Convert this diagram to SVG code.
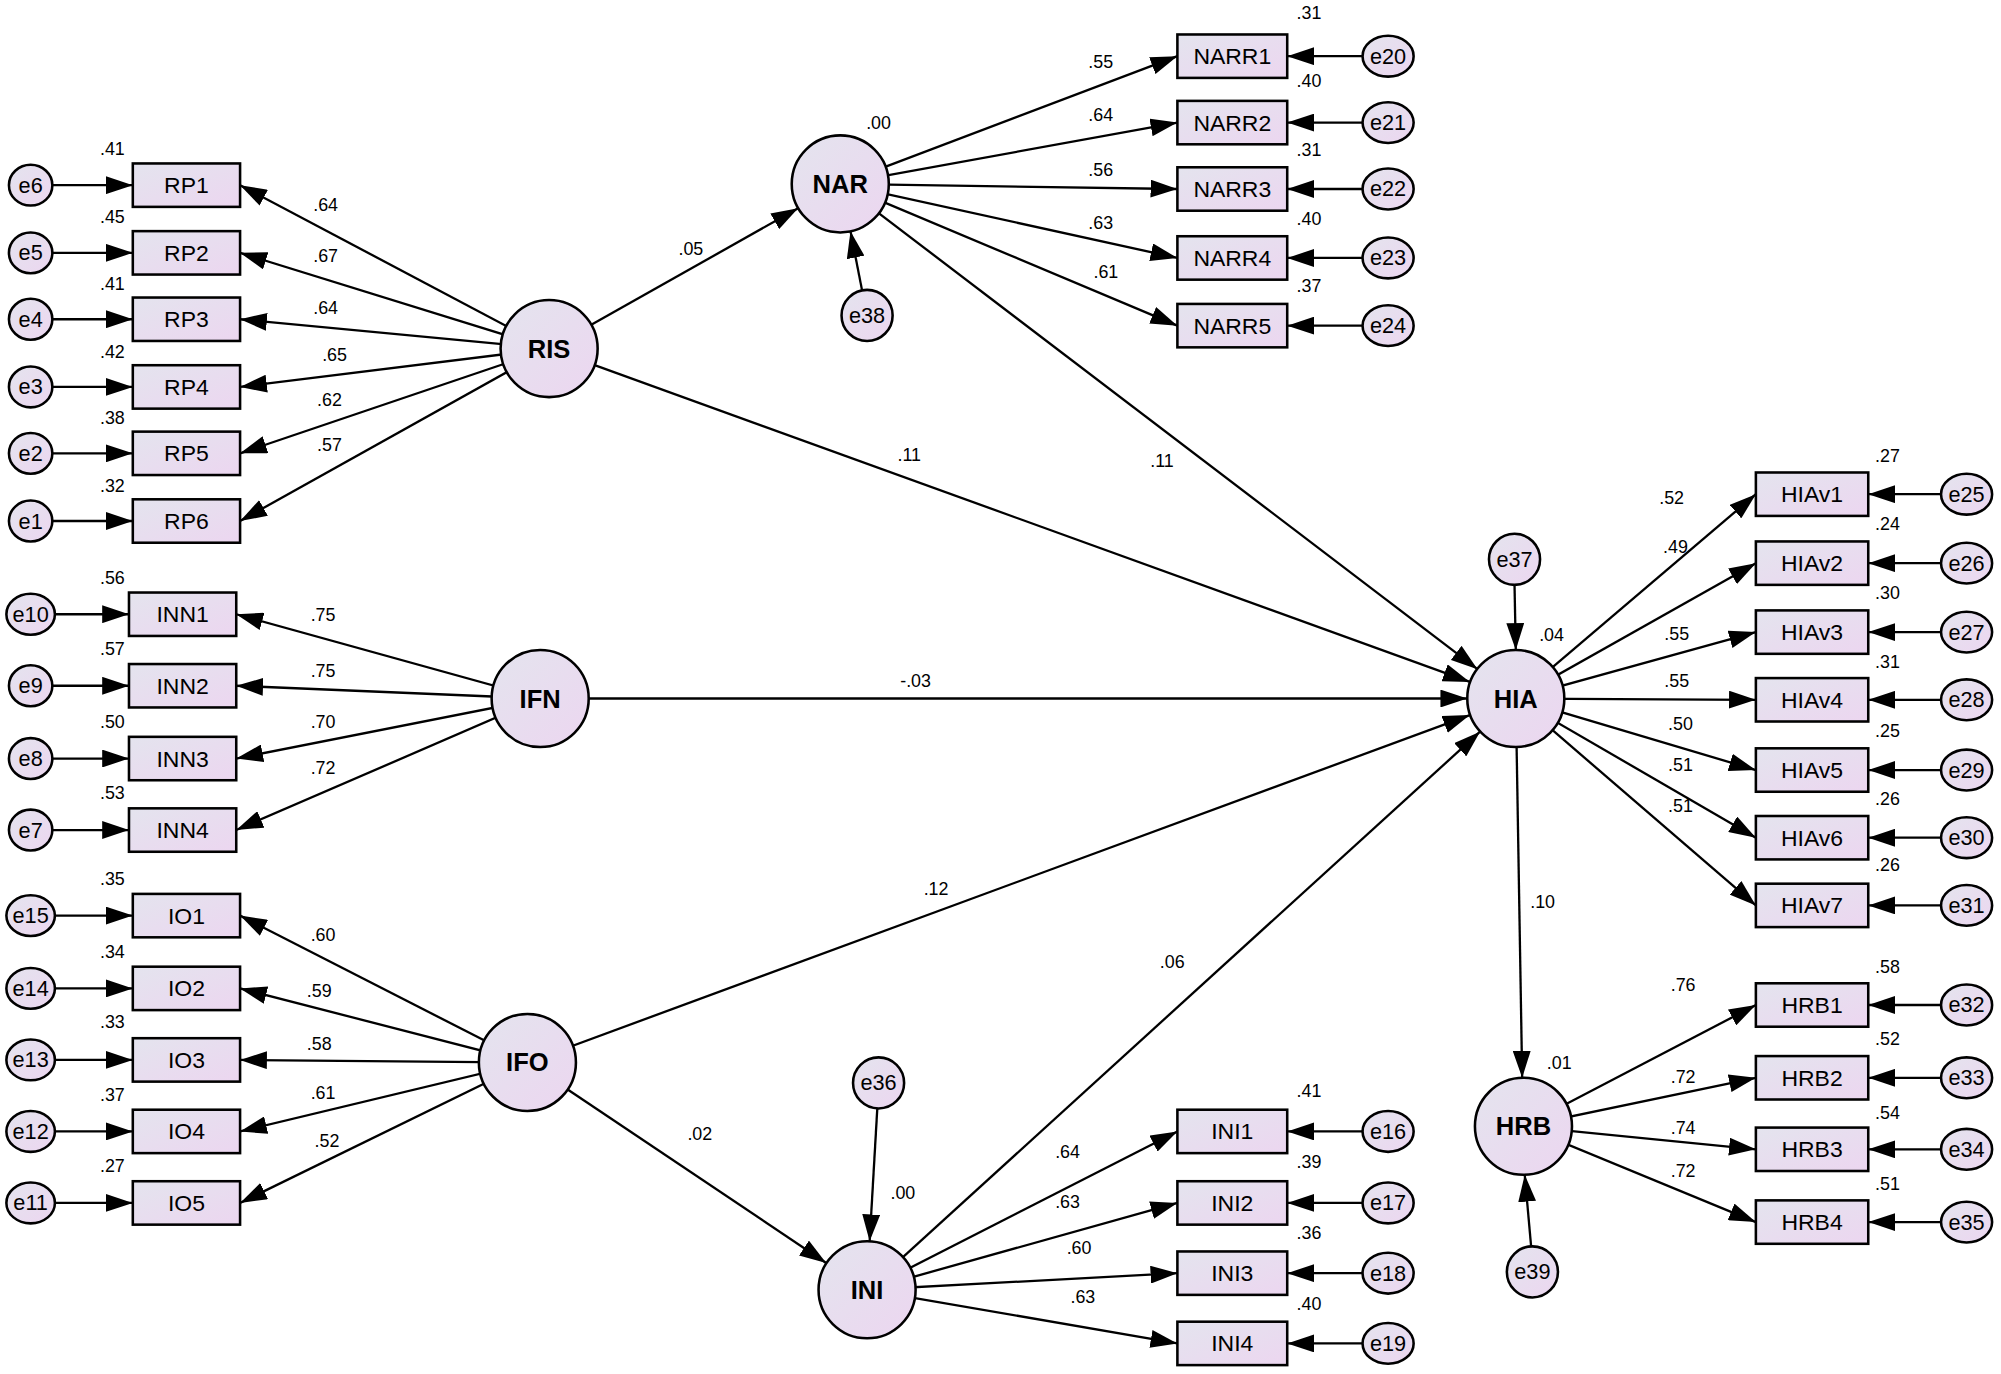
<svg xmlns="http://www.w3.org/2000/svg" width="2001" height="1374" viewBox="0 0 2001 1374">
<defs>
<linearGradient id="g" x1="0" y1="0" x2="1" y2="1"><stop offset="0" stop-color="#e4e4ee"/><stop offset="1" stop-color="#ecd6f0"/></linearGradient>
<marker id="a" markerUnits="userSpaceOnUse" markerWidth="22" markerHeight="14" refX="21" refY="7" orient="auto"><path d="M0,0 L21,7 L0,14 Z" fill="#000"/></marker>
<style>
.c line{stroke:#000;stroke-width:1.8;marker-end:url(#a)}
.n rect,.n circle,.n ellipse{fill:url(#g);stroke:#000;stroke-width:2}
.t{font-family:"Liberation Sans",Arial,sans-serif;font-size:18px;text-anchor:middle;dominant-baseline:central}
.b{font-weight:bold;font-size:20px}
.e{font-size:17px}
.v{font-family:"Liberation Sans",Arial,sans-serif;font-size:14px;text-anchor:middle}
</style>
</defs>
<rect width="2001" height="1374" fill="#fff"/>
<g transform="scale(1.277)">
<g class="c" id="connectors">
<line x1="430" y1="273" x2="188" y2="145"/><line x1="430" y1="273" x2="188" y2="198"/><line x1="430" y1="273" x2="188" y2="250"/><line x1="430" y1="273" x2="188" y2="303"/><line x1="430" y1="273" x2="188" y2="355"/><line x1="430" y1="273" x2="188" y2="408"/>
<line x1="423" y1="547" x2="185" y2="481"/><line x1="423" y1="547" x2="185" y2="537"/><line x1="423" y1="547" x2="185" y2="594"/><line x1="423" y1="547" x2="185" y2="650"/>
<line x1="413" y1="832" x2="188" y2="717"/><line x1="413" y1="832" x2="188" y2="774"/><line x1="413" y1="832" x2="188" y2="830"/><line x1="413" y1="832" x2="188" y2="886"/><line x1="413" y1="832" x2="188" y2="942"/>
<line x1="41" y1="145" x2="104" y2="145"/><line x1="41" y1="198" x2="104" y2="198"/><line x1="41" y1="250" x2="104" y2="250"/><line x1="41" y1="303" x2="104" y2="303"/><line x1="41" y1="355" x2="104" y2="355"/><line x1="41" y1="408" x2="104" y2="408"/>
<line x1="41" y1="481" x2="101" y2="481"/><line x1="41" y1="537" x2="101" y2="537"/><line x1="41" y1="594" x2="101" y2="594"/><line x1="41" y1="650" x2="101" y2="650"/>
<line x1="41" y1="717" x2="104" y2="717"/><line x1="41" y1="774" x2="104" y2="774"/><line x1="41" y1="830" x2="104" y2="830"/><line x1="41" y1="886" x2="104" y2="886"/><line x1="41" y1="942" x2="104" y2="942"/>
<line x1="430" y1="273" x2="625" y2="163"/><line x1="430" y1="273" x2="1151" y2="534"/><line x1="658" y1="144" x2="1157" y2="524"/><line x1="423" y1="547" x2="1149" y2="547"/><line x1="413" y1="832" x2="1151" y2="560"/><line x1="413" y1="832" x2="647" y2="989"/><line x1="679" y1="1010" x2="1159" y2="573"/><line x1="1187" y1="547" x2="1192" y2="844"/>
<line x1="1186" y1="458" x2="1187" y2="509"/><line x1="675" y1="227" x2="666" y2="181"/><line x1="687" y1="868" x2="681" y2="972"/><line x1="1199" y1="976" x2="1194" y2="920"/>
<line x1="658" y1="144" x2="922" y2="44"/><line x1="658" y1="144" x2="922" y2="96"/><line x1="658" y1="144" x2="922" y2="148"/><line x1="658" y1="144" x2="922" y2="202"/><line x1="658" y1="144" x2="922" y2="255"/>
<line x1="1067" y1="44" x2="1008" y2="44"/><line x1="1067" y1="96" x2="1008" y2="96"/><line x1="1067" y1="148" x2="1008" y2="148"/><line x1="1067" y1="202" x2="1008" y2="202"/><line x1="1067" y1="255" x2="1008" y2="255"/>
<line x1="679" y1="1010" x2="922" y2="886"/><line x1="679" y1="1010" x2="922" y2="942"/><line x1="679" y1="1010" x2="922" y2="997"/><line x1="679" y1="1010" x2="922" y2="1052"/>
<line x1="1067" y1="886" x2="1008" y2="886"/><line x1="1067" y1="942" x2="1008" y2="942"/><line x1="1067" y1="997" x2="1008" y2="997"/><line x1="1067" y1="1052" x2="1008" y2="1052"/>
<line x1="1187" y1="547" x2="1375" y2="387"/><line x1="1187" y1="547" x2="1375" y2="441"/><line x1="1187" y1="547" x2="1375" y2="495"/><line x1="1187" y1="547" x2="1375" y2="548"/><line x1="1187" y1="547" x2="1375" y2="603"/><line x1="1187" y1="547" x2="1375" y2="656"/><line x1="1187" y1="547" x2="1375" y2="709"/>
<line x1="1520" y1="387" x2="1463" y2="387"/><line x1="1520" y1="441" x2="1463" y2="441"/><line x1="1520" y1="495" x2="1463" y2="495"/><line x1="1520" y1="548" x2="1463" y2="548"/><line x1="1520" y1="603" x2="1463" y2="603"/><line x1="1520" y1="656" x2="1463" y2="656"/><line x1="1520" y1="709" x2="1463" y2="709"/>
<line x1="1193" y1="882" x2="1375" y2="787"/><line x1="1193" y1="882" x2="1375" y2="844"/><line x1="1193" y1="882" x2="1375" y2="900"/><line x1="1193" y1="882" x2="1375" y2="957"/>
<line x1="1520" y1="787" x2="1463" y2="787"/><line x1="1520" y1="844" x2="1463" y2="844"/><line x1="1520" y1="900" x2="1463" y2="900"/><line x1="1520" y1="957" x2="1463" y2="957"/>
</g>
<g class="n">
<g id="RIS"><circle cx="430" cy="273" r="38"/><text class="t b" x="430" y="273">RIS</text></g>
<g id="IFN"><circle cx="423" cy="547" r="38"/><text class="t b" x="423" y="547">IFN</text></g>
<g id="IFO"><circle cx="413" cy="832" r="38"/><text class="t b" x="413" y="832">IFO</text></g>
<g id="NAR"><circle cx="658" cy="144" r="38"/><text class="t b" x="658" y="144">NAR</text></g>
<g id="INI"><circle cx="679" cy="1010" r="38"/><text class="t b" x="679" y="1010">INI</text></g>
<g id="HIA"><circle cx="1187" cy="547" r="38"/><text class="t b" x="1187" y="547">HIA</text></g>
<g id="HRB"><circle cx="1193" cy="882" r="38"/><text class="t b" x="1193" y="882">HRB</text></g>
<g id="e38"><circle cx="679" cy="247" r="20"/><text class="t e" x="679" y="247">e38</text></g>
<g id="e36"><circle cx="688" cy="848" r="20"/><text class="t e" x="688" y="848">e36</text></g>
<g id="e37"><circle cx="1186" cy="438" r="20"/><text class="t e" x="1186" y="438">e37</text></g>
<g id="e39"><circle cx="1200" cy="996" r="20"/><text class="t e" x="1200" y="996">e39</text></g>
<g id="RP1"><rect x="104" y="128" width="84" height="34"/><text class="t" x="146" y="145">RP1</text></g>
<g id="RP2"><rect x="104" y="181" width="84" height="34"/><text class="t" x="146" y="198">RP2</text></g>
<g id="RP3"><rect x="104" y="233" width="84" height="34"/><text class="t" x="146" y="250">RP3</text></g>
<g id="RP4"><rect x="104" y="286" width="84" height="34"/><text class="t" x="146" y="303">RP4</text></g>
<g id="RP5"><rect x="104" y="338" width="84" height="34"/><text class="t" x="146" y="355">RP5</text></g>
<g id="RP6"><rect x="104" y="391" width="84" height="34"/><text class="t" x="146" y="408">RP6</text></g>
<g id="INN1"><rect x="101" y="464" width="84" height="34"/><text class="t" x="143" y="481">INN1</text></g>
<g id="INN2"><rect x="101" y="520" width="84" height="34"/><text class="t" x="143" y="537">INN2</text></g>
<g id="INN3"><rect x="101" y="577" width="84" height="34"/><text class="t" x="143" y="594">INN3</text></g>
<g id="INN4"><rect x="101" y="633" width="84" height="34"/><text class="t" x="143" y="650">INN4</text></g>
<g id="IO1"><rect x="104" y="700" width="84" height="34"/><text class="t" x="146" y="717">IO1</text></g>
<g id="IO2"><rect x="104" y="757" width="84" height="34"/><text class="t" x="146" y="774">IO2</text></g>
<g id="IO3"><rect x="104" y="813" width="84" height="34"/><text class="t" x="146" y="830">IO3</text></g>
<g id="IO4"><rect x="104" y="869" width="84" height="34"/><text class="t" x="146" y="886">IO4</text></g>
<g id="IO5"><rect x="104" y="925" width="84" height="34"/><text class="t" x="146" y="942">IO5</text></g>
<g id="e6"><ellipse cx="24" cy="145" rx="17" ry="16"/><text class="t e" x="24" y="145">e6</text></g>
<g id="e5"><ellipse cx="24" cy="198" rx="17" ry="16"/><text class="t e" x="24" y="198">e5</text></g>
<g id="e4"><ellipse cx="24" cy="250" rx="17" ry="16"/><text class="t e" x="24" y="250">e4</text></g>
<g id="e3"><ellipse cx="24" cy="303" rx="17" ry="16"/><text class="t e" x="24" y="303">e3</text></g>
<g id="e2"><ellipse cx="24" cy="355" rx="17" ry="16"/><text class="t e" x="24" y="355">e2</text></g>
<g id="e1"><ellipse cx="24" cy="408" rx="17" ry="16"/><text class="t e" x="24" y="408">e1</text></g>
<g id="e10"><ellipse cx="24" cy="481" rx="19" ry="16"/><text class="t e" x="24" y="481">e10</text></g>
<g id="e9"><ellipse cx="24" cy="537" rx="17" ry="16"/><text class="t e" x="24" y="537">e9</text></g>
<g id="e8"><ellipse cx="24" cy="594" rx="17" ry="16"/><text class="t e" x="24" y="594">e8</text></g>
<g id="e7"><ellipse cx="24" cy="650" rx="17" ry="16"/><text class="t e" x="24" y="650">e7</text></g>
<g id="e15"><ellipse cx="24" cy="717" rx="19" ry="16"/><text class="t e" x="24" y="717">e15</text></g>
<g id="e14"><ellipse cx="24" cy="774" rx="19" ry="16"/><text class="t e" x="24" y="774">e14</text></g>
<g id="e13"><ellipse cx="24" cy="830" rx="19" ry="16"/><text class="t e" x="24" y="830">e13</text></g>
<g id="e12"><ellipse cx="24" cy="886" rx="19" ry="16"/><text class="t e" x="24" y="886">e12</text></g>
<g id="e11"><ellipse cx="24" cy="942" rx="19" ry="16"/><text class="t e" x="24" y="942">e11</text></g>
<g id="NARR1"><rect x="922" y="27" width="86" height="34"/><text class="t" x="965" y="44">NARR1</text></g>
<g id="NARR2"><rect x="922" y="79" width="86" height="34"/><text class="t" x="965" y="96">NARR2</text></g>
<g id="NARR3"><rect x="922" y="131" width="86" height="34"/><text class="t" x="965" y="148">NARR3</text></g>
<g id="NARR4"><rect x="922" y="185" width="86" height="34"/><text class="t" x="965" y="202">NARR4</text></g>
<g id="NARR5"><rect x="922" y="238" width="86" height="34"/><text class="t" x="965" y="255">NARR5</text></g>
<g id="e20"><ellipse cx="1087" cy="44" rx="20" ry="16"/><text class="t e" x="1087" y="44">e20</text></g>
<g id="e21"><ellipse cx="1087" cy="96" rx="20" ry="16"/><text class="t e" x="1087" y="96">e21</text></g>
<g id="e22"><ellipse cx="1087" cy="148" rx="20" ry="16"/><text class="t e" x="1087" y="148">e22</text></g>
<g id="e23"><ellipse cx="1087" cy="202" rx="20" ry="16"/><text class="t e" x="1087" y="202">e23</text></g>
<g id="e24"><ellipse cx="1087" cy="255" rx="20" ry="16"/><text class="t e" x="1087" y="255">e24</text></g>
<g id="INI1"><rect x="922" y="869" width="86" height="34"/><text class="t" x="965" y="886">INI1</text></g>
<g id="INI2"><rect x="922" y="925" width="86" height="34"/><text class="t" x="965" y="942">INI2</text></g>
<g id="INI3"><rect x="922" y="980" width="86" height="34"/><text class="t" x="965" y="997">INI3</text></g>
<g id="INI4"><rect x="922" y="1035" width="86" height="34"/><text class="t" x="965" y="1052">INI4</text></g>
<g id="e16"><ellipse cx="1087" cy="886" rx="20" ry="16"/><text class="t e" x="1087" y="886">e16</text></g>
<g id="e17"><ellipse cx="1087" cy="942" rx="20" ry="16"/><text class="t e" x="1087" y="942">e17</text></g>
<g id="e18"><ellipse cx="1087" cy="997" rx="20" ry="16"/><text class="t e" x="1087" y="997">e18</text></g>
<g id="e19"><ellipse cx="1087" cy="1052" rx="20" ry="16"/><text class="t e" x="1087" y="1052">e19</text></g>
<g id="HIAv1"><rect x="1375" y="370" width="88" height="34"/><text class="t" x="1419" y="387">HIAv1</text></g>
<g id="HIAv2"><rect x="1375" y="424" width="88" height="34"/><text class="t" x="1419" y="441">HIAv2</text></g>
<g id="HIAv3"><rect x="1375" y="478" width="88" height="34"/><text class="t" x="1419" y="495">HIAv3</text></g>
<g id="HIAv4"><rect x="1375" y="531" width="88" height="34"/><text class="t" x="1419" y="548">HIAv4</text></g>
<g id="HIAv5"><rect x="1375" y="586" width="88" height="34"/><text class="t" x="1419" y="603">HIAv5</text></g>
<g id="HIAv6"><rect x="1375" y="639" width="88" height="34"/><text class="t" x="1419" y="656">HIAv6</text></g>
<g id="HIAv7"><rect x="1375" y="692" width="88" height="34"/><text class="t" x="1419" y="709">HIAv7</text></g>
<g id="e25"><ellipse cx="1540" cy="387" rx="20" ry="16"/><text class="t e" x="1540" y="387">e25</text></g>
<g id="e26"><ellipse cx="1540" cy="441" rx="20" ry="16"/><text class="t e" x="1540" y="441">e26</text></g>
<g id="e27"><ellipse cx="1540" cy="495" rx="20" ry="16"/><text class="t e" x="1540" y="495">e27</text></g>
<g id="e28"><ellipse cx="1540" cy="548" rx="20" ry="16"/><text class="t e" x="1540" y="548">e28</text></g>
<g id="e29"><ellipse cx="1540" cy="603" rx="20" ry="16"/><text class="t e" x="1540" y="603">e29</text></g>
<g id="e30"><ellipse cx="1540" cy="656" rx="20" ry="16"/><text class="t e" x="1540" y="656">e30</text></g>
<g id="e31"><ellipse cx="1540" cy="709" rx="20" ry="16"/><text class="t e" x="1540" y="709">e31</text></g>
<g id="HRB1"><rect x="1375" y="770" width="88" height="34"/><text class="t" x="1419" y="787">HRB1</text></g>
<g id="HRB2"><rect x="1375" y="827" width="88" height="34"/><text class="t" x="1419" y="844">HRB2</text></g>
<g id="HRB3"><rect x="1375" y="883" width="88" height="34"/><text class="t" x="1419" y="900">HRB3</text></g>
<g id="HRB4"><rect x="1375" y="940" width="88" height="34"/><text class="t" x="1419" y="957">HRB4</text></g>
<g id="e32"><ellipse cx="1540" cy="787" rx="20" ry="16"/><text class="t e" x="1540" y="787">e32</text></g>
<g id="e33"><ellipse cx="1540" cy="844" rx="20" ry="16"/><text class="t e" x="1540" y="844">e33</text></g>
<g id="e34"><ellipse cx="1540" cy="900" rx="20" ry="16"/><text class="t e" x="1540" y="900">e34</text></g>
<g id="e35"><ellipse cx="1540" cy="957" rx="20" ry="16"/><text class="t e" x="1540" y="957">e35</text></g>
</g>
<g id="labels" class="v">
<text x="255" y="165">.64</text><text x="255" y="205">.67</text><text x="255" y="246">.64</text><text x="262" y="283">.65</text><text x="258" y="318">.62</text><text x="258" y="353">.57</text>
<text x="88" y="121">.41</text><text x="88" y="175">.45</text><text x="88" y="227">.41</text><text x="88" y="280">.42</text><text x="88" y="332">.38</text><text x="88" y="385">.32</text>
<text x="88" y="457">.56</text><text x="88" y="513">.57</text><text x="88" y="570">.50</text><text x="88" y="626">.53</text>
<text x="88" y="693">.35</text><text x="88" y="750">.34</text><text x="88" y="805">.33</text><text x="88" y="862">.37</text><text x="88" y="918">.27</text>
<text x="253" y="486">.75</text><text x="253" y="530">.75</text><text x="253" y="570">.70</text><text x="253" y="606">.72</text>
<text x="253" y="737">.60</text><text x="250" y="781">.59</text><text x="250" y="822">.58</text><text x="253" y="861">.61</text><text x="256" y="898">.52</text>
<text x="541" y="200">.05</text><text x="712" y="361">.11</text><text x="910" y="366">.11</text><text x="717" y="538">-.03</text><text x="733" y="701">.12</text><text x="918" y="758">.06</text><text x="548" y="893">.02</text>
<text x="688" y="101">.00</text><text x="707" y="939">.00</text><text x="1215" y="502">.04</text><text x="1208" y="711">.10</text><text x="1221" y="837">.01</text>
<text x="862" y="53">.55</text><text x="862" y="95">.64</text><text x="862" y="138">.56</text><text x="862" y="179">.63</text><text x="866" y="218">.61</text>
<text x="1025" y="15">.31</text><text x="1025" y="68">.40</text><text x="1025" y="122">.31</text><text x="1025" y="176">.40</text><text x="1025" y="229">.37</text>
<text x="836" y="907">.64</text><text x="836" y="946">.63</text><text x="845" y="982">.60</text><text x="848" y="1020">.63</text>
<text x="1025" y="859">.41</text><text x="1025" y="915">.39</text><text x="1025" y="970">.36</text><text x="1025" y="1026">.40</text>
<text x="1309" y="395">.52</text><text x="1312" y="433">.49</text><text x="1313" y="501">.55</text><text x="1313" y="538">.55</text><text x="1316" y="572">.50</text><text x="1316" y="604">.51</text><text x="1316" y="636">.51</text>
<text x="1478" y="362">.27</text><text x="1478" y="415">.24</text><text x="1478" y="469">.30</text><text x="1478" y="523">.31</text><text x="1478" y="577">.25</text><text x="1478" y="630">.26</text><text x="1478" y="682">.26</text>
<text x="1318" y="776">.76</text><text x="1318" y="848">.72</text><text x="1318" y="888">.74</text><text x="1318" y="922">.72</text>
<text x="1478" y="762">.58</text><text x="1478" y="818">.52</text><text x="1478" y="876">.54</text><text x="1478" y="932">.51</text>
</g>
</g>
</svg>
